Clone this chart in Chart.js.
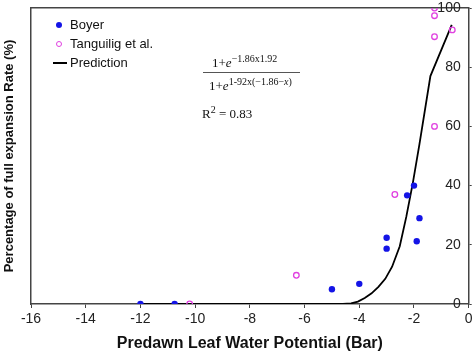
<!DOCTYPE html>
<html>
<head>
<meta charset="utf-8">
<script src="https://cdn.jsdelivr.net/npm/chart.js@4"></script>
<style>
  body { margin: 0; background: #fff; }
  #wrap { position: relative; width: 474px; height: 353px; }
  #legend { position: absolute; left: 0; top: 0; font: 13px "Liberation Sans", Arial, sans-serif; color: #111; }
  .item { position: absolute; white-space: nowrap; }
  .mark { position: absolute; box-sizing: border-box; }
  .eq { position: absolute; font: 13px "Liberation Serif", "Times New Roman", serif; color: #111; white-space: nowrap; line-height: 1; }
  .eq sup { font-size: 10px; vertical-align: 5px; line-height: 0; }
  .bar { position: absolute; left: 203px; top: 72px; width: 97px; height: 1px; background: #555; }
</style>
</head>
<body>
<div id="wrap">
  <canvas id="chart" width="474" height="353"></canvas>
  <div id="legend"></div>
  <div class="eq" style="left:212px; top:56px;">1+<i>e</i><sup>−1.86x1.92</sup></div>
  <div class="bar"></div>
  <div class="eq" style="left:209px; top:79px;">1+<i>e</i><sup>1-92x(−1.86−<i>x</i>)</sup></div>
  <div class="eq" style="left:202px; top:107px;">R<sup>2</sup> = 0.83</div>
</div>
<script>
// Boyer (filled blue points)
const boyerX = [-12, -10.75, -5, -4, -3, -3, -2.25, -2, -1.9, -1.8];
const boyerY = [0, 0, 5, 6.8, 22.4, 18.7, 36.7, 40, 21.2, 29];

// Tanguilig et al. (open magenta points)
const tangX = [-10.2, -6.3, -2.7, -1.25, -1.25, -1.25, -1.25, -0.6];
const tangY = [0, 9.7, 37, 60, 90.3, 97.4, 100, 92.6];

// Prediction curve
const predX = [-12, -4.6, -4.3, -4.05, -3.8, -3.55, -3.3, -3.05, -2.8, -2.52, -2.28, -2.04, -1.8, -1.4, -0.62];
const predY = [0, 0, 0.2, 0.8, 2, 3.6, 5.8, 8.5, 12.6, 19.5, 29.5, 41, 54, 77, 94.3];

const xTicks = [-16, -14, -12, -10, -8, -6, -4, -2, 0];
const yTicks = [0, 20, 40, 60, 80, 100];

function toPoints(xs, ys) {
    return xs.map((x, i) => ({ x: x, y: ys[i] }));
}

const axisColor = '#444';
const tickFont = { family: 'Liberation Sans, Arial, sans-serif', size: 14 };

const ctx = document.getElementById('chart').getContext('2d');
const chart = new Chart(ctx, {
    type: 'scatter',
    data: {
        datasets: [{
            label: 'Boyer',
            data: toPoints(boyerX, boyerY),
            backgroundColor: '#1414e6',
            borderColor: '#1414e6',
            pointRadius: 3.2,
            pointBorderWidth: 0
        }, {
            label: 'Tanguilig et al.',
            data: toPoints(tangX, tangY),
            backgroundColor: 'rgba(255,255,255,0)',
            borderColor: '#e040e0',
            pointRadius: 2.8,
            pointBorderWidth: 1.3
        }, {
            label: 'Prediction',
            data: toPoints(predX, predY),
            showLine: true,
            borderColor: '#000',
            borderWidth: 1.8,
            pointRadius: 0,
            tension: 0
        }]
    },
    options: {
        responsive: false,
        animation: false,
        layout: { padding: 0 },
        plugins: {
            legend: { display: false },
            tooltip: { enabled: false }
        },
        scales: {
            x: {
                type: 'linear',
                position: 'bottom',
                min: -16,
                max: 0,
                afterBuildTicks: (s) => { s.ticks = xTicks.map(v => ({ value: v })); },
                ticks: { font: tickFont, color: '#222', padding: 3, autoSkip: false, maxRotation: 0 },
                grid: { drawOnChartArea: false, tickLength: 4, color: axisColor },
                border: { color: axisColor, width: 1.5 },
                title: {
                    display: true,
                    text: 'Predawn Leaf Water Potential (Bar)',
                    color: '#111',
                    font: { family: 'Liberation Sans, Arial, sans-serif', size: 16, weight: 'bold' },
                    padding: { top: 2, bottom: 0 }
                },
                afterFit: (s) => { s.height = 49; s.paddingRight = 0; s.paddingLeft = 0; }
            },
            xTop: {
                type: 'linear',
                position: 'top',
                min: -16,
                max: 0,
                ticks: { display: false },
                grid: { display: false, drawTicks: false },
                border: { color: axisColor, width: 1.5 },
                afterFit: (s) => { s.height = 8; }
            },
            yLeft: {
                type: 'linear',
                position: 'left',
                min: 0,
                max: 100,
                ticks: { display: false },
                grid: { display: false, drawTicks: false },
                border: { color: axisColor, width: 1.5 },
                title: {
                    display: true,
                    text: 'Percentage of full expansion Rate (%)',
                    color: '#111',
                    font: { family: 'Liberation Sans, Arial, sans-serif', size: 13, weight: 'bold' },
                    padding: { top: 2, bottom: 0 }
                },
                afterFit: (s) => { s.width = 31; }
            },
            y: {
                type: 'linear',
                position: 'right',
                min: 0,
                max: 100,
                afterBuildTicks: (s) => { s.ticks = yTicks.map(v => ({ value: v })); },
                ticks: { font: tickFont, color: '#222', mirror: true, padding: -8 },
                grid: { drawOnChartArea: false, tickLength: 3, color: axisColor },
                border: { color: axisColor, width: 1.5 },
                afterFit: (s) => { s.width = 3; }
            }
        }
    }
});

// html legend built from the datasets, sitting in the upper-left of the plot
function buildLegend() {
    const box = document.getElementById('legend');
    const left = chart.chartArea.left;
    const top = chart.chartArea.top;
    chart.data.datasets.forEach((ds, i) => {
        const cy = top + 17 + i * 19;
        const mark = document.createElement('div');
        mark.className = 'mark';
        if (ds.showLine) {
            mark.style.left = (left + 22) + 'px';
            mark.style.top = (cy - 1) + 'px';
            mark.style.width = '14px';
            mark.style.height = '2px';
            mark.style.background = ds.borderColor;
        } else {
            const d = 6;
            mark.style.left = (left + 28 - d / 2) + 'px';
            mark.style.top = (cy - d / 2) + 'px';
            mark.style.width = d + 'px';
            mark.style.height = d + 'px';
            mark.style.borderRadius = '50%';
            mark.style.background = ds.pointBorderWidth ? '#fff' : ds.backgroundColor;
            mark.style.border = ds.pointBorderWidth ? ('1.3px solid ' + ds.borderColor) : 'none';
        }
        box.appendChild(mark);
        const txt = document.createElement('div');
        txt.className = 'item';
        txt.textContent = ds.label;
        txt.style.left = (left + 39) + 'px';
        txt.style.top = (cy - 8) + 'px';
        box.appendChild(txt);
    });
}
buildLegend();
</script>
</body>
</html>
